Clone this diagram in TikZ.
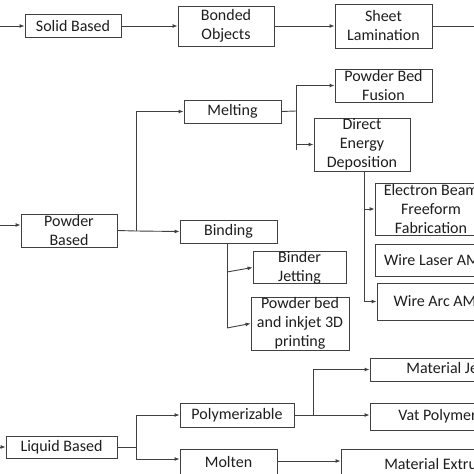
\documentclass[tikz,border=0pt]{standalone}
\usepackage{fontspec}
\setmainfont{Carlito}
\usetikzlibrary{arrows.meta}
\definecolor{ln}{HTML}{404040}
\definecolor{tx}{HTML}{1E1E1E}
\tikzset{
  box/.style={draw=ln, line width=0.9pt, inner sep=0pt, align=center, text=tx,
    font=\fontsize{16}{19}\selectfont, anchor=center},
  con/.style={draw=ln, line width=0.9pt},
  arr/.style={con, -{Latex[length=5pt,width=4pt]}}
}
\begin{document}
\begin{tikzpicture}[x=1pt,y=-1pt]
\useasboundingbox (0,0) rectangle (474,474);
\clip (0,0) rectangle (474,474);
\fill[white] (0,0) rectangle (474,474);
% boxes
\node[box, minimum width=96, minimum height=23] (sb) at (73,26) {Solid Based};
\node[box, minimum width=96, minimum height=40] (bo) at (226,26) {Bonded\\Objects};
\node[box, minimum width=97, minimum height=44] (sl) at (383.5,26) {Sheet\\Lamination};
\node[box, minimum width=97, minimum height=33] (pbf) at (383.5,85.5) {Powder Bed\\Fusion};
\node[box, minimum width=96, minimum height=53] (ded) at (362,144.5) {Direct\\Energy\\Deposition};
\node[box, minimum width=97, minimum height=23] (me) at (232.5,111.5) {Melting};
\node[box, minimum width=96, minimum height=33] (pb) at (69,230.5) {Powder\\Based};
\node[box, minimum width=97, minimum height=23] (bi) at (228.5,231.5) {Binding};
\node[box, minimum width=93, minimum height=31] (bj) at (299.5,267.5) {Binder\\Jetting};
\node[box, minimum width=98, minimum height=53] (pbi) at (300,323.5) {Powder bed\\and inkjet 3D\\printing};
\node[box, minimum width=112, minimum height=52] (ebf) at (431,209) {Electron Beam\\Freeform\\Fabrication};
\node[box, minimum width=114, minimum height=32] (wla) at (432,260) {Wire Laser AM};
\node[box, minimum width=116, minimum height=37] (wam) at (435,301.5) {Wire Arc AM};
\node[box, minimum width=111, minimum height=22] (lb) at (61.5,447) {Liquid Based};
\node[box, minimum width=114, minimum height=24] (po) at (237,415) {Polymerizable};
\node[box, minimum width=97, minimum height=26, text depth=0pt] (mo) at (228.5,462) {Molten};
\node[box, minimum width=174, minimum height=23] (mj) at (457,369.5) {Material Jetting};
\node[box, minimum width=178, minimum height=27] (vp) at (459,416.5) {Vat Polymerization};
\node[box, minimum width=206, minimum height=30, text depth=0pt] (mex) at (444,464) {Material Extrusion};
% coordinates
\coordinate (inSB) at (0,26);
\coordinate (outSL) at (474,26);
\coordinate (inPB) at (0,225);
\coordinate (jp) at (136,231);
\coordinate (jm) at (296,111);
\coordinate (tm) at (296,150);
\coordinate (dj) at (364,171);
\coordinate (b0) at (227,243);
\coordinate (b1) at (227,272);
\coordinate (b2) at (227,328);
\coordinate (inLB) at (0,447);
\coordinate (jl) at (136,447);
\coordinate (ml) at (136,459);
\coordinate (jpo) at (313,415);
% connectors
\draw[arr] (inSB) -- (sb.west);
\draw[arr] (sb.east) -- (bo.west);
\draw[arr] (bo.east) -- (sl.west);
\draw[con] (sl.east) -- (outSL);
\draw[arr] (inPB) -- (inPB -| pb.west);
\draw[con] (pb.east) -- (jp);
\draw[arr] (jp) -- (bi.west);
\draw[arr] (jp) |- (me.west);
\draw[con] (me.east) -- (jm);
\draw[arr] (jm) |- (pbf.west);
\draw[arr] (jm) |- (ded.west);
\draw[con] (jm) -- (tm);
\draw[arr] (dj) |- (wam.west);
\draw[arr] (dj |- ebf.west) -- (ebf.west);
\draw[con] (b0) -- (b2);
\draw[arr] (b1) -- (bj.west);
\draw[arr] (b2) -- (pbi.west);
\draw[arr] (inLB) -- (lb.west);
\draw[con] (lb.east) -- (jl);
\draw[arr] (jl) |- (po.west);
\draw[arr] (jl) -- (ml) -- (ml -| mo.west);
\draw[con] (po.east) -- (jpo);
\draw[arr] (jpo) |- (mj.west);
\draw[arr] (jpo) -- (jpo -| vp.west);
\draw[arr] (mo.east |- 0,461) -- (mex.west |- 0,461);
\end{tikzpicture}
\end{document}
